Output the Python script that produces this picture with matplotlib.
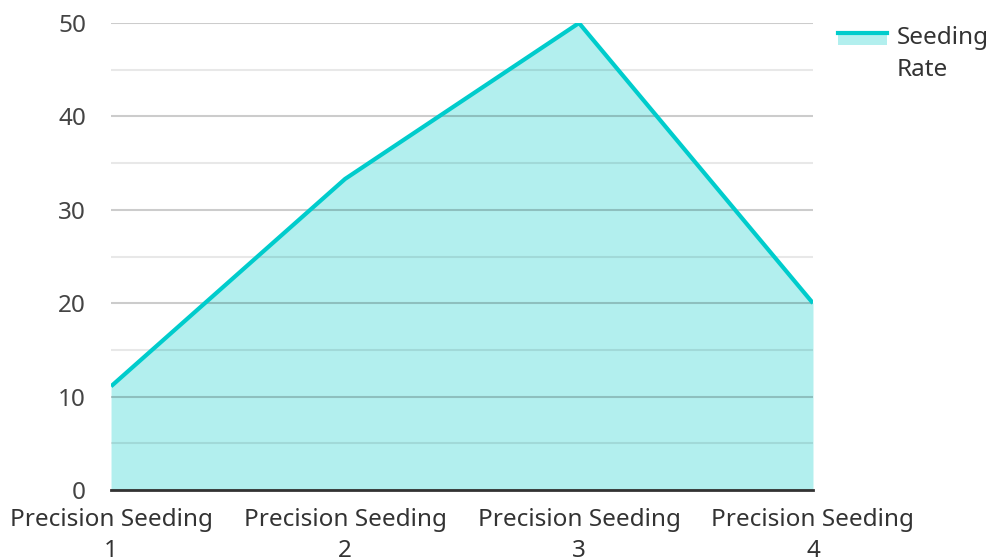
import matplotlib
matplotlib.use("Agg")
import matplotlib.pyplot as plt
from matplotlib.legend_handler import HandlerBase
from matplotlib.patches import Rectangle
from matplotlib.lines import Line2D

plt.rcParams['font.family'] = ['Noto Sans', 'DejaVu Sans']

# seeding rate per precision seeding run
categories = ["Precision Seeding\n1", "Precision Seeding\n2",
              "Precision Seeding\n3", "Precision Seeding\n4"]
seeding_rate = [11.1, 33.3, 50, 20]
y_major = [0, 10, 20, 30, 40, 50]
y_minor = [5, 15, 25, 35, 45]

LINE = "#00cccc"
FILL = "#b2efee"
FS = 17.5


class AreaHandler(HandlerBase):
    # line on top of a filled box
    def create_artists(self, legend, orig_handle, xd, yd, w, h, fontsize, trans):
        top = yd + h * 1.75
        box = Rectangle((xd, top - h * 0.7), w, h * 0.7, facecolor=FILL,
                        edgecolor="none", transform=trans)
        ln = Line2D([xd, xd + w], [top, top], color=LINE, lw=3, transform=trans)
        return [box, ln]


fig = plt.figure(figsize=(9.94, 5.6), dpi=100)
ax = fig.add_axes([0.1117, 0.125, 0.7062, 0.8339])

x = list(range(len(categories)))
ax.fill_between(x, seeding_rate, 0, color=FILL, lw=0, zorder=1)
ax.plot(x, seeding_rate, color=LINE, lw=3, zorder=3, solid_capstyle="butt")

ax.set_xlim(0, len(categories) - 1)
ax.set_ylim(0, 50)
ax.set_xticks(x)
ax.set_xticklabels(categories, fontsize=FS, color="#333333", linespacing=1.4)
ax.set_yticks(y_major)
ax.set_yticks(y_minor, minor=True)
ax.tick_params(axis="y", labelsize=FS, labelcolor="#444444", length=0, pad=18)
ax.tick_params(axis="y", which="minor", length=0)
ax.tick_params(axis="x", length=0, pad=13)

ax.set_axisbelow(False)
ax.grid(axis="y", which="major", color="#000000", alpha=0.2, lw=1.5, zorder=2)
ax.grid(axis="y", which="minor", color="#000000", alpha=0.09, lw=1.5, zorder=2)

for s in ["left", "right", "top"]:
    ax.spines[s].set_visible(False)
ax.spines["bottom"].set_color("#333333")
ax.spines["bottom"].set_linewidth(2)
ax.spines["bottom"].set_zorder(4)

handle = object()
leg = fig.legend([handle], ["Seeding\nRate"], handler_map={object: AreaHandler()},
                 loc="upper left", bbox_to_anchor=(0.836, 0.967), frameon=False,
                 fontsize=FS, handlelength=2.0, handletextpad=0.4,
                 labelcolor="#333333", borderaxespad=0, borderpad=0.3)
leg.get_texts()[0].set_linespacing(1.45)

fig.savefig("out.png", dpi=100)
